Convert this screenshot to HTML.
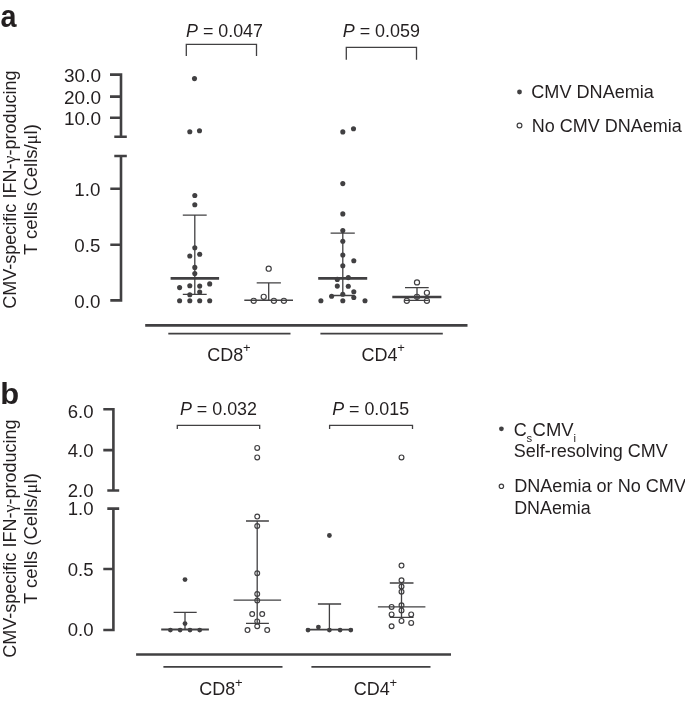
<!DOCTYPE html>
<html lang="en"><head><meta charset="utf-8"><title>Figure</title>
<style>html,body{margin:0;padding:0;background:#fff}svg{display:block}text{font-family:"Liberation Sans","DejaVu Sans",sans-serif;fill:#231f20}.t{font-size:18px}.b{font-size:31px;font-weight:bold}.s{font-size:11.3px}.p{font-size:13px}.ln{stroke:#414042;fill:none}.d{fill:#414042}.o{fill:none;stroke:#414042;stroke-width:1.2}</style></head><body>
<svg width="685" height="703" viewBox="0 0 685 703">
<rect width="685" height="703" fill="#fff"/>
<text class="b" x="0.5" y="26.8" text-anchor="start" textLength="16" lengthAdjust="spacingAndGlyphs" style="font-size:32px">a</text>
<text class="t" transform="translate(15.6,189.6) rotate(-90)" text-anchor="middle" textLength="238.5" lengthAdjust="spacingAndGlyphs">CMV-specific IFN-<tspan font-family="Liberation Serif,DejaVu Serif,serif">γ</tspan>-producing</text>
<text class="t" transform="translate(37.1,189.6) rotate(-90)" text-anchor="middle" textLength="130.8" lengthAdjust="spacingAndGlyphs">T cells (Cells/<tspan font-family="Liberation Serif,DejaVu Serif,serif">μ</tspan>l)</text>
<path class="ln" d="M110,74.6H121V136.8 M110,96.6H121 M110,117.8H121 M114.3,136.8H126.8" stroke-width="2.6"/>
<path class="ln" d="M114.3,156H126.8 M121,156V300.4H110.3 M110.3,188.7H121 M110.3,244.7H121" stroke-width="2.6"/>
<text class="t" x="64.0" y="81.6" text-anchor="start" textLength="37.0" lengthAdjust="spacingAndGlyphs">30.0</text>
<text class="t" x="64.0" y="103.6" text-anchor="start" textLength="37.0" lengthAdjust="spacingAndGlyphs">20.0</text>
<text class="t" x="64.0" y="124.8" text-anchor="start" textLength="37.0" lengthAdjust="spacingAndGlyphs">10.0</text>
<text class="t" x="74.3" y="196.2" text-anchor="start" textLength="26.0" lengthAdjust="spacingAndGlyphs">1.0</text>
<text class="t" x="74.3" y="252.2" text-anchor="start" textLength="26.0" lengthAdjust="spacingAndGlyphs">0.5</text>
<text class="t" x="74.3" y="307.8" text-anchor="start" textLength="26.0" lengthAdjust="spacingAndGlyphs">0.0</text>
<text class="t" x="186" y="36.6" textLength="77" lengthAdjust="spacingAndGlyphs"><tspan font-style="italic">P</tspan> = 0.047</text>
<path class="ln" d="M186.3,56V44.3H256.5V56" stroke-width="1.3"/>
<text class="t" x="342.7" y="36.6" textLength="77.3" lengthAdjust="spacingAndGlyphs"><tspan font-style="italic">P</tspan> = 0.059</text>
<path class="ln" d="M346.3,59.7V47.3H416.5V59.7" stroke-width="1.3"/>
<path class="ln" d="M182.8,215.2H206.7 M194.8,215.2V294.3 M182.8,294.3H206.7" stroke-width="1.3"/>
<line class="ln" x1="170.6" y1="278.4" x2="219.1" y2="278.4" stroke-width="2.6"/>
<circle class="d" cx="194.5" cy="78.6" r="2.55"/>
<circle class="d" cx="189.8" cy="131.7" r="2.55"/>
<circle class="d" cx="199.5" cy="130.7" r="2.55"/>
<circle class="d" cx="194.8" cy="195.5" r="2.55"/>
<circle class="d" cx="194.8" cy="204.7" r="2.55"/>
<circle class="d" cx="194.8" cy="247.8" r="2.55"/>
<circle class="d" cx="189.8" cy="256" r="2.55"/>
<circle class="d" cx="199.7" cy="254.2" r="2.55"/>
<circle class="d" cx="194.8" cy="267.4" r="2.55"/>
<circle class="d" cx="194.8" cy="273.6" r="2.55"/>
<circle class="d" cx="209.7" cy="283.9" r="2.55"/>
<circle class="d" cx="189.8" cy="285.8" r="2.55"/>
<circle class="d" cx="199.7" cy="286.1" r="2.55"/>
<circle class="d" cx="179.6" cy="287.6" r="2.55"/>
<circle class="d" cx="199.7" cy="292" r="2.55"/>
<circle class="d" cx="189.8" cy="294.8" r="2.55"/>
<circle class="d" cx="179.6" cy="300.8" r="2.55"/>
<circle class="d" cx="189.8" cy="300.8" r="2.55"/>
<circle class="d" cx="199.7" cy="300.8" r="2.55"/>
<circle class="d" cx="209.7" cy="300.8" r="2.55"/>
<path class="ln" d="M256.7,282.9H280.9 M268.7,282.9V300" stroke-width="1.3"/>
<line class="ln" x1="244.3" y1="300.2" x2="293" y2="300.2" stroke-width="1.6"/>
<circle class="o" cx="268.7" cy="268.7" r="2.55"/>
<circle class="o" cx="263.7" cy="296.8" r="2.55"/>
<circle class="o" cx="253.7" cy="300.8" r="2.55"/>
<circle class="o" cx="273.9" cy="300.8" r="2.55"/>
<circle class="o" cx="283.9" cy="300.8" r="2.55"/>
<path class="ln" d="M330.6,233.1H354.8 M342.8,233.1V295.5 M331,295.5H354.5" stroke-width="1.3"/>
<line class="ln" x1="318.2" y1="278.4" x2="367.2" y2="278.4" stroke-width="2.6"/>
<circle class="d" cx="342.8" cy="131.9" r="2.55"/>
<circle class="d" cx="353.5" cy="128.7" r="2.55"/>
<circle class="d" cx="342.8" cy="183.6" r="2.55"/>
<circle class="d" cx="342.8" cy="213.9" r="2.55"/>
<circle class="d" cx="342.8" cy="230.6" r="2.55"/>
<circle class="d" cx="342.8" cy="241.3" r="2.55"/>
<circle class="d" cx="342.8" cy="255" r="2.55"/>
<circle class="d" cx="353.8" cy="260.7" r="2.55"/>
<circle class="d" cx="342.8" cy="265.7" r="2.55"/>
<circle class="d" cx="337.3" cy="279.4" r="2.55"/>
<circle class="d" cx="348.3" cy="277.6" r="2.55"/>
<circle class="d" cx="337.3" cy="286.1" r="2.55"/>
<circle class="d" cx="348.3" cy="286.3" r="2.55"/>
<circle class="d" cx="353.8" cy="291.8" r="2.55"/>
<circle class="d" cx="342.8" cy="294.3" r="2.55"/>
<circle class="d" cx="331.6" cy="296.3" r="2.55"/>
<circle class="d" cx="353.8" cy="297.5" r="2.55"/>
<circle class="d" cx="320.9" cy="300.8" r="2.55"/>
<circle class="d" cx="342.8" cy="300.8" r="2.55"/>
<circle class="d" cx="365" cy="300.8" r="2.55"/>
<path class="ln" d="M405,287.6H428.7 M417,287.6V300.3 M405,300.3H428.7" stroke-width="1.3"/>
<line class="ln" x1="392.3" y1="297" x2="441.4" y2="297" stroke-width="2.6"/>
<circle class="o" cx="417" cy="282.4" r="2.55"/>
<circle class="o" cx="426.9" cy="292.8" r="2.55"/>
<circle class="o" cx="417" cy="296.8" r="2.55"/>
<circle class="o" cx="406.8" cy="300.8" r="2.55"/>
<circle class="o" cx="426.9" cy="300.8" r="2.55"/>
<line class="ln" x1="145.2" y1="325.4" x2="467.5" y2="325.4" stroke-width="2.6"/>
<line class="ln" x1="168.3" y1="333.7" x2="290.5" y2="333.7" stroke-width="1.7"/>
<line class="ln" x1="320.4" y1="333.7" x2="442.8" y2="333.7" stroke-width="1.7"/>
<text class="t" style="font-size:19px" x="207.2" y="360.6"><tspan textLength="36" lengthAdjust="spacingAndGlyphs">CD8</tspan><tspan class="p" dy="-8.2" dx="-0.3">+</tspan></text>
<text class="t" style="font-size:19px" x="361.5" y="360.6"><tspan textLength="36" lengthAdjust="spacingAndGlyphs">CD4</tspan><tspan class="p" dy="-8.2" dx="-0.3">+</tspan></text>
<circle class="d" cx="519.5" cy="92" r="2.4"/>
<text class="t" x="531.3" y="97.7" text-anchor="start" textLength="122.6" lengthAdjust="spacingAndGlyphs">CMV DNAemia</text>
<circle class="o" cx="519.5" cy="125.5" r="2.4"/>
<text class="t" x="531.7" y="131.8" text-anchor="start" textLength="150" lengthAdjust="spacingAndGlyphs">No CMV DNAemia</text>
<text class="b" x="0.3" y="403.7" text-anchor="start" textLength="18.9" lengthAdjust="spacingAndGlyphs" style="font-size:30.4px">b</text>
<text class="t" transform="translate(15.6,538.6) rotate(-90)" text-anchor="middle" textLength="238.5" lengthAdjust="spacingAndGlyphs">CMV-specific IFN-<tspan font-family="Liberation Serif,DejaVu Serif,serif">γ</tspan>-producing</text>
<text class="t" transform="translate(37.1,538.6) rotate(-90)" text-anchor="middle" textLength="130.8" lengthAdjust="spacingAndGlyphs">T cells (Cells/<tspan font-family="Liberation Serif,DejaVu Serif,serif">μ</tspan>l)</text>
<path class="ln" d="M103.3,409.3H113.4V490.5 M103.3,450.1H113.4 M107.3,490.5H119.2" stroke-width="2.6"/>
<path class="ln" d="M107.3,508.6H119.2 M113.4,508.6V630H103.3 M103.3,569H113.4" stroke-width="2.6"/>
<text class="t" x="67.8" y="417.6" text-anchor="start" textLength="25.8" lengthAdjust="spacingAndGlyphs">6.0</text>
<text class="t" x="67.8" y="457.2" text-anchor="start" textLength="25.8" lengthAdjust="spacingAndGlyphs">4.0</text>
<text class="t" x="67.8" y="497.0" text-anchor="start" textLength="25.8" lengthAdjust="spacingAndGlyphs">2.0</text>
<text class="t" x="67.8" y="515.3" text-anchor="start" textLength="25.8" lengthAdjust="spacingAndGlyphs">1.0</text>
<text class="t" x="67.8" y="575.5" text-anchor="start" textLength="25.8" lengthAdjust="spacingAndGlyphs">0.5</text>
<text class="t" x="67.8" y="635.8" text-anchor="start" textLength="25.8" lengthAdjust="spacingAndGlyphs">0.0</text>
<text class="t" x="179.9" y="415" textLength="77.1" lengthAdjust="spacingAndGlyphs"><tspan font-style="italic">P</tspan> = 0.032</text>
<path class="ln" d="M177.3,429V425.3H259.7V429" stroke-width="1.3"/>
<text class="t" x="332.2" y="415" textLength="76.9" lengthAdjust="spacingAndGlyphs"><tspan font-style="italic">P</tspan> = 0.015</text>
<path class="ln" d="M329.6,429V425.3H412.5V429" stroke-width="1.3"/>
<path class="ln" d="M173.6,612.4H196.7 M185,612.4V629.3" stroke-width="1.3"/>
<line class="ln" x1="161.2" y1="629.5" x2="208.9" y2="629.5" stroke-width="1.8"/>
<circle class="d" cx="185" cy="579.6" r="2.4"/>
<circle class="d" cx="185" cy="623.6" r="2.4"/>
<circle class="d" cx="170.4" cy="630.1" r="2.4"/>
<circle class="d" cx="180.1" cy="630.1" r="2.4"/>
<circle class="d" cx="190" cy="630.1" r="2.4"/>
<circle class="d" cx="199.7" cy="630.1" r="2.4"/>
<path class="ln" d="M246,521H268.9 M257.2,521V623.4 M246,623.4H268.9" stroke-width="1.3"/>
<line class="ln" x1="233.6" y1="600.2" x2="281.1" y2="600.2" stroke-width="1.3"/>
<circle class="o" cx="257.2" cy="447.9" r="2.4"/>
<circle class="o" cx="257.2" cy="457.4" r="2.4"/>
<circle class="o" cx="257.2" cy="516.6" r="2.4"/>
<circle class="o" cx="257.2" cy="526" r="2.4"/>
<circle class="o" cx="257.2" cy="573.3" r="2.4"/>
<circle class="o" cx="257.2" cy="594" r="2.4"/>
<circle class="o" cx="257.2" cy="600.5" r="2.4"/>
<circle class="o" cx="252.2" cy="614.1" r="2.4"/>
<circle class="o" cx="262.2" cy="614.1" r="2.4"/>
<circle class="o" cx="257.2" cy="621.4" r="2.4"/>
<circle class="o" cx="257.2" cy="626.3" r="2.4"/>
<circle class="o" cx="247.5" cy="630.1" r="2.4"/>
<circle class="o" cx="267.2" cy="630.1" r="2.4"/>
<path class="ln" d="M317.9,604H341.1 M329.4,604V629.5" stroke-width="1.3"/>
<line class="ln" x1="306.2" y1="629.7" x2="352.8" y2="629.7" stroke-width="1.8"/>
<circle class="d" cx="329.4" cy="535.5" r="2.4"/>
<circle class="d" cx="318.4" cy="627.1" r="2.4"/>
<circle class="d" cx="308" cy="630.1" r="2.4"/>
<circle class="d" cx="329.4" cy="630.1" r="2.4"/>
<circle class="d" cx="340.1" cy="630.1" r="2.4"/>
<circle class="d" cx="350.8" cy="630.1" r="2.4"/>
<path class="ln" d="M389.8,583H413.5 M401.5,583V617.4 M389.8,617.4H413.5" stroke-width="1.3"/>
<line class="ln" x1="377.9" y1="606.9" x2="425.4" y2="606.9" stroke-width="1.3"/>
<circle class="o" cx="401.5" cy="457.4" r="2.4"/>
<circle class="o" cx="401.5" cy="565.6" r="2.4"/>
<circle class="o" cx="401.5" cy="580.3" r="2.4"/>
<circle class="o" cx="401.5" cy="586.5" r="2.4"/>
<circle class="o" cx="401.5" cy="591.7" r="2.4"/>
<circle class="o" cx="401.5" cy="605.2" r="2.4"/>
<circle class="o" cx="391.6" cy="606.9" r="2.4"/>
<circle class="o" cx="401.5" cy="610.4" r="2.4"/>
<circle class="o" cx="391.6" cy="614.4" r="2.4"/>
<circle class="o" cx="411.2" cy="614.4" r="2.4"/>
<circle class="o" cx="401.5" cy="620.9" r="2.4"/>
<circle class="o" cx="411.2" cy="622.9" r="2.4"/>
<circle class="o" cx="391.6" cy="626.3" r="2.4"/>
<line class="ln" x1="136.1" y1="654.5" x2="451" y2="654.5" stroke-width="2.6"/>
<line class="ln" x1="163.4" y1="666.8" x2="282.5" y2="666.8" stroke-width="1.7"/>
<line class="ln" x1="311.4" y1="666.8" x2="430.5" y2="666.8" stroke-width="1.7"/>
<text class="t" style="font-size:19px" x="199.3" y="694.8"><tspan textLength="36" lengthAdjust="spacingAndGlyphs">CD8</tspan><tspan class="p" dy="-8.2" dx="-0.3">+</tspan></text>
<text class="t" style="font-size:19px" x="353.7" y="694.8"><tspan textLength="36" lengthAdjust="spacingAndGlyphs">CD4</tspan><tspan class="p" dy="-8.2" dx="-0.3">+</tspan></text>
<circle class="d" cx="501.4" cy="428.8" r="2.4"/>
<text class="t" y="435.6"><tspan x="513.7">C</tspan><tspan class="s" x="526.4" dy="6">s</tspan><tspan x="532.6" dy="-6" textLength="41" lengthAdjust="spacingAndGlyphs">CMV</tspan><tspan class="s" x="573.6" dy="6">i</tspan></text>
<text class="t" x="513.7" y="456.9" text-anchor="start" textLength="154" lengthAdjust="spacingAndGlyphs">Self-resolving CMV</text>
<circle class="o" cx="501.4" cy="486.3" r="2.2"/>
<text class="t" x="514.2" y="491.7" text-anchor="start" textLength="171.8" lengthAdjust="spacingAndGlyphs">DNAemia or No CMV</text>
<text class="t" x="514.2" y="513.5" text-anchor="start" textLength="76.4" lengthAdjust="spacingAndGlyphs">DNAemia</text>
</svg></body></html>
